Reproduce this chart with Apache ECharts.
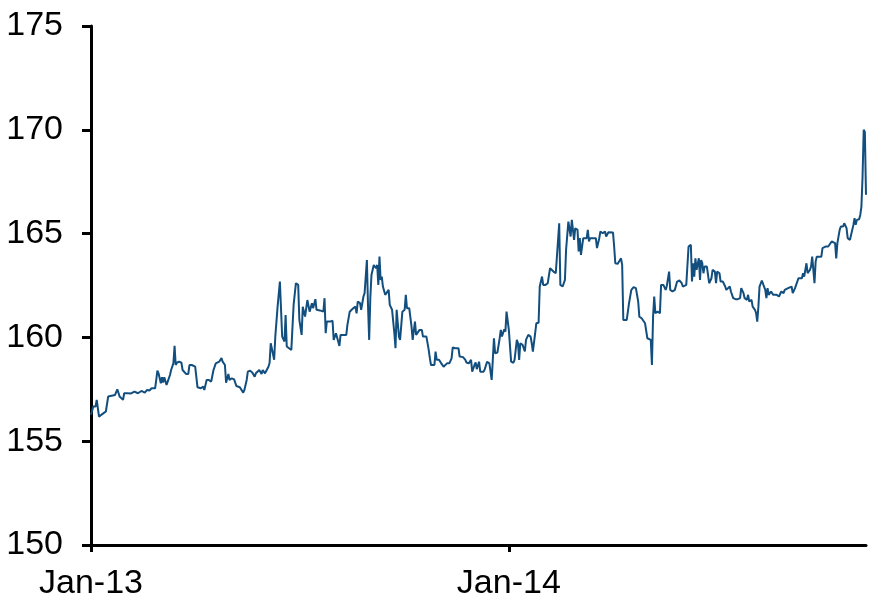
<!DOCTYPE html>
<html><head><meta charset="utf-8">
<script src="https://cdn.jsdelivr.net/npm/echarts@6/dist/echarts.min.js"></script>
<style>html,body{margin:0;padding:0;background:#fff}#c{width:878px;height:608px}</style>
</head><body><div id="c"></div>
<script>
const dates = [
'2013-01-01','2013-01-03','2013-01-05','2013-01-06','2013-01-07','2013-01-08','2013-01-10','2013-01-12','2013-01-14','2013-01-16',
'2013-01-19','2013-01-22','2013-01-24','2013-01-26','2013-01-27','2013-01-29','2013-01-30','2013-02-02','2013-02-05','2013-02-08',
'2013-02-11','2013-02-14','2013-02-17','2013-02-19','2013-02-21','2013-02-23','2013-02-26','2013-02-27','2013-02-28','2013-03-01',
'2013-03-03','2013-03-04','2013-03-05','2013-03-06','2013-03-08','2013-03-09','2013-03-11','2013-03-12','2013-03-14','2013-03-15',
'2013-03-16','2013-03-17','2013-03-19','2013-03-21','2013-03-22','2013-03-25','2013-03-27','2013-03-28','2013-03-30','2013-04-02',
'2013-04-03','2013-04-04','2013-04-07','2013-04-09','2013-04-10','2013-04-12','2013-04-14','2013-04-16','2013-04-18','2013-04-20',
'2013-04-23','2013-04-25','2013-04-26','2013-04-28','2013-04-29','2013-05-01','2013-05-02','2013-05-04','2013-05-06','2013-05-08',
'2013-05-11','2013-05-12','2013-05-14','2013-05-15','2013-05-17','2013-05-18','2013-05-20','2013-05-22','2013-05-24','2013-05-25',
'2013-05-28','2013-05-30','2013-05-31','2013-06-02','2013-06-03','2013-06-05','2013-06-06','2013-06-07','2013-06-08','2013-06-10',
'2013-06-11','2013-06-13','2013-06-15','2013-06-16','2013-06-17','2013-06-19','2013-06-20','2013-06-21','2013-06-23','2013-06-25',
'2013-06-27','2013-06-29','2013-07-01','2013-07-02','2013-07-04','2013-07-05','2013-07-07','2013-07-09','2013-07-11','2013-07-13',
'2013-07-14','2013-07-16','2013-07-17','2013-07-20','2013-07-23','2013-07-24','2013-07-25','2013-07-26','2013-07-29','2013-07-31',
'2013-08-01','2013-08-03','2013-08-04','2013-08-06','2013-08-07','2013-08-10','2013-08-12','2013-08-13','2013-08-15','2013-08-18',
'2013-08-20','2013-08-21','2013-08-22','2013-08-24','2013-08-25','2013-08-27','2013-08-28','2013-08-30','2013-08-31','2013-09-01',
'2013-09-02','2013-09-03','2013-09-05','2013-09-07','2013-09-08','2013-09-09','2013-09-10','2013-09-11','2013-09-12','2013-09-13',
'2013-09-15','2013-09-16','2013-09-18','2013-09-19','2013-09-21','2013-09-22','2013-09-23','2013-09-24','2013-09-25','2013-09-27',
'2013-09-28','2013-09-29','2013-09-30','2013-10-02','2013-10-03','2013-10-04','2013-10-06','2013-10-08','2013-10-09','2013-10-11',
'2013-10-12','2013-10-15','2013-10-17','2013-10-18','2013-10-21','2013-10-23','2013-10-24','2013-10-25','2013-10-28','2013-10-29',
'2013-10-30','2013-11-01','2013-11-03','2013-11-05','2013-11-08','2013-11-10','2013-11-12','2013-11-13','2013-11-15','2013-11-18',
'2013-11-19','2013-11-22','2013-11-24','2013-11-25','2013-11-27','2013-11-29','2013-11-30','2013-12-02','2013-12-03','2013-12-04',
'2013-12-06','2013-12-07','2013-12-10','2013-12-11','2013-12-13','2013-12-15','2013-12-16','2013-12-17','2013-12-18','2013-12-19',
'2013-12-20','2013-12-22','2013-12-24','2013-12-25','2013-12-26','2013-12-28','2013-12-29','2013-12-30','2014-01-01','2014-01-02',
'2014-01-03','2014-01-05','2014-01-06','2014-01-08','2014-01-09','2014-01-10','2014-01-11','2014-01-13','2014-01-14','2014-01-15',
'2014-01-16','2014-01-18','2014-01-20','2014-01-21','2014-01-22','2014-01-24','2014-01-25','2014-01-27','2014-01-28','2014-01-30',
'2014-01-31','2014-02-02','2014-02-04','2014-02-06','2014-02-07','2014-02-09','2014-02-11','2014-02-12','2014-02-14','2014-02-15',
'2014-02-17','2014-02-19','2014-02-20','2014-02-22','2014-02-23','2014-02-24','2014-02-25','2014-02-26','2014-02-27','2014-02-28',
'2014-03-02','2014-03-03','2014-03-04','2014-03-05','2014-03-07','2014-03-08','2014-03-10','2014-03-11','2014-03-12','2014-03-13',
'2014-03-16','2014-03-18','2014-03-19','2014-03-21','2014-03-22','2014-03-24','2014-03-26','2014-03-27','2014-03-29','2014-03-30',
'2014-04-02','2014-04-03','2014-04-04','2014-04-06','2014-04-07','2014-04-09','2014-04-10','2014-04-11','2014-04-12','2014-04-14',
'2014-04-16','2014-04-17','2014-04-18','2014-04-20','2014-04-22','2014-04-24','2014-04-25','2014-04-27','2014-04-28','2014-04-30',
'2014-05-01','2014-05-02','2014-05-03','2014-05-05','2014-05-06','2014-05-07','2014-05-08','2014-05-09','2014-05-10','2014-05-11',
'2014-05-13','2014-05-14','2014-05-15','2014-05-16','2014-05-18','2014-05-19','2014-05-21','2014-05-22','2014-05-24','2014-05-26',
'2014-05-28','2014-05-30','2014-06-01','2014-06-02','2014-06-05','2014-06-06','2014-06-07','2014-06-09','2014-06-10','2014-06-11',
'2014-06-12','2014-06-13','2014-06-14','2014-06-16','2014-06-17','2014-06-18','2014-06-19','2014-06-20','2014-06-21','2014-06-23',
'2014-06-25','2014-06-27','2014-06-28','2014-06-30','2014-07-01','2014-07-02','2014-07-04','2014-07-05','2014-07-07','2014-07-09',
'2014-07-10','2014-07-11','2014-07-13','2014-07-14','2014-07-16','2014-07-18','2014-07-20','2014-07-22','2014-07-23','2014-07-25',
'2014-07-26','2014-07-28','2014-07-29','2014-07-30','2014-08-01','2014-08-02','2014-08-04','2014-08-05','2014-08-06','2014-08-07',
'2014-08-08','2014-08-10','2014-08-11','2014-08-13','2014-08-14','2014-08-15','2014-08-16','2014-08-18','2014-08-20','2014-08-21',
'2014-08-23','2014-08-25','2014-08-27','2014-08-29','2014-08-30','2014-08-31','2014-09-02','2014-09-03','2014-09-05','2014-09-06',
'2014-09-08','2014-09-09','2014-09-11','2014-09-12','2014-09-14','2014-09-15','2014-09-16','2014-09-18','2014-09-19','2014-09-21',
'2014-09-22','2014-09-23','2014-09-24','2014-09-25','2014-09-26','2014-09-27','2014-09-29','2014-10-01','2014-10-02','2014-10-05',
'2014-10-07','2014-10-08','2014-10-10','2014-10-11','2014-10-13','2014-10-14','2014-10-15','2014-10-17','2014-10-18','2014-10-20',
'2014-10-21','2014-10-23','2014-10-24','2014-10-26','2014-10-27','2014-10-29','2014-10-30','2014-10-31','2014-11-01','2014-11-03',
'2014-11-04','2014-11-05','2014-11-06','2014-11-07','2014-11-08','2014-11-09'
];
const values = [
156.27,156.67,156.67,156.99,157.07,156.18,156.27,156.35,156.43,157.15,
157.19,157.23,157.50,157.15,157.07,156.99,157.31,157.31,157.30,157.39,
157.31,157.42,157.34,157.47,157.44,157.55,157.55,157.95,158.40,158.27,
157.79,158.08,157.82,158.08,157.71,157.71,158.19,158.43,158.76,159.59,
158.67,158.78,158.83,158.78,158.43,158.24,158.24,158.67,158.67,158.59,
158.11,157.60,157.55,157.63,157.47,157.95,157.95,157.87,158.43,158.75,
158.83,159.00,158.83,158.67,157.82,158.24,157.95,158.03,157.98,157.66,
157.60,157.55,157.34,157.47,157.95,158.35,158.40,158.30,158.11,158.27,
158.43,158.24,158.43,158.27,158.19,158.59,158.77,159.72,159.80,158.92,
160.04,161.48,162.69,162.65,160.04,159.80,161.08,159.56,159.48,159.40,
161.57,162.61,162.53,160.84,160.12,161.48,161.00,161.80,161.24,161.65,
161.41,161.84,161.33,161.30,161.24,161.89,160.20,160.76,160.76,160.80,
159.88,160.20,160.17,159.59,160.12,160.12,160.12,160.60,161.24,161.40,
161.48,161.16,161.73,161.65,161.33,161.97,162.13,163.73,161.50,159.88,
161.89,163.01,163.49,163.33,163.49,162.53,163.89,162.77,162.93,162.45,
162.05,162.00,162.29,161.57,161.33,161.24,160.20,159.48,161.33,160.04,
159.88,159.88,161.24,161.33,162.05,161.41,161.41,160.52,159.88,160.76,
160.12,160.36,160.36,160.04,160.04,159.40,159.00,158.67,158.67,159.32,
158.92,158.92,158.75,158.59,158.75,158.75,158.99,159.52,159.48,159.48,
159.08,159.05,158.92,158.79,158.75,158.92,158.35,158.67,158.79,158.47,
158.83,158.35,158.35,158.47,158.83,158.75,158.83,157.95,158.92,159.96,
159.24,159.27,159.96,160.36,160.04,160.39,160.28,161.24,160.36,160.28,
158.83,158.78,158.92,159.88,159.72,158.92,159.72,159.64,159.72,159.32,
159.88,160.12,160.04,159.72,159.32,160.20,160.68,160.71,162.45,162.93,
162.53,162.53,162.61,163.33,163.41,163.17,163.09,163.89,165.50,162.53,
162.45,162.77,164.22,165.58,165.66,164.86,165.66,165.66,164.70,165.26,
165.18,164.14,164.78,163.97,164.78,164.70,164.78,165.18,164.62,164.78,
164.78,164.78,164.30,164.78,165.10,165.02,165.10,164.86,165.06,165.06,
165.05,164.38,163.57,163.54,163.57,163.81,163.49,160.84,160.80,160.84,
161.65,161.73,162.29,162.42,162.37,161.73,161.00,160.92,161.00,160.68,
160.76,159.96,159.88,159.88,158.67,161.00,161.97,161.17,161.09,161.24,
161.17,162.53,162.61,162.53,162.29,162.48,163.17,162.29,162.21,162.29,
162.69,162.74,162.61,162.45,162.53,162.53,164.38,164.46,162.69,163.57,
162.93,163.81,163.25,163.81,162.77,163.73,163.57,163.09,163.41,163.41,
162.61,162.85,163.25,163.17,162.61,163.17,163.09,162.69,162.69,162.45,
162.29,162.21,162.45,162.21,161.89,161.84,161.84,161.89,162.37,162.13,
161.89,161.81,162.05,161.73,161.81,161.48,161.33,161.17,160.76,161.48,
162.45,162.74,162.69,162.29,161.89,162.37,162.05,162.21,162.05,162.13,
162.05,161.97,162.21,162.13,162.29,162.21,162.37,162.29,162.45,162.13,
162.37,162.45,162.85,162.77,162.85,163.09,162.93,163.57,163.09,163.25,
163.41,163.89,163.25,162.61,163.65,163.89,163.89,163.89,164.30,164.38,
164.38,164.46,164.62,164.70,164.54,163.81,164.54,165.18,165.34,165.34,
165.50,165.26,164.78,164.70,164.78,165.42,165.74,165.42,165.66,165.69,
165.90,166.30,167.75,170.00,169.90,166.87
];
const xTickDates = ['2013-01-01', '2014-01-01'];
const xTickLabels = ['Jan-13', 'Jan-14'];
const xRange = ['2013-01-01', '2014-11-09'];
const yMin = 150, yMax = 175, yStep = 5;

function toTs(s) { const p = s.split('-').map(Number); return Date.UTC(p[0], p[1] - 1, p[2]); }
const xTickTs = xTickDates.map(toTs);
const seriesData = dates.map((d, i) => [toTs(d), values[i]]);

const FONT = "'Liberation Sans', Arial, sans-serif";
const chart = echarts.init(document.getElementById('c'), null, { renderer: 'canvas' });
chart.setOption({
  animation: false,
  backgroundColor: '#ffffff',
  grid: { left: 91, right: 12, top: 26, bottom: 63, containLabel: false },
  xAxis: {
    type: 'value',
    min: toTs(xRange[0]),
    max: toTs(xRange[1]),
    axisLine: { show: true, lineStyle: { color: '#000', width: 3 } },
    axisTick: { show: true, customValues: xTickTs, length: 7, inside: false, lineStyle: { color: '#000', width: 3 } },
    axisLabel: {
      show: true, customValues: xTickTs, margin: 22,
      color: '#000', fontSize: 34, fontFamily: FONT,
      formatter: function (v) { const i = xTickTs.indexOf(v); return i >= 0 ? xTickLabels[i] : ''; }
    },
    splitLine: { show: false }
  },
  yAxis: {
    type: 'value',
    min: yMin, max: yMax, interval: yStep,
    axisLine: { show: true, lineStyle: { color: '#000', width: 3 } },
    axisTick: { show: true, length: 9, inside: false, lineStyle: { color: '#000', width: 3 } },
    axisLabel: { color: '#000', fontSize: 34, fontFamily: FONT, margin: 28 },
    splitLine: { show: false }
  },
  series: [{
    type: 'line',
    data: seriesData,
    showSymbol: false,
    symbol: 'none',
    lineStyle: { color: '#124e7e', width: 2 },
    emphasis: { disabled: true }
  }]
});
</script>
</body></html>
